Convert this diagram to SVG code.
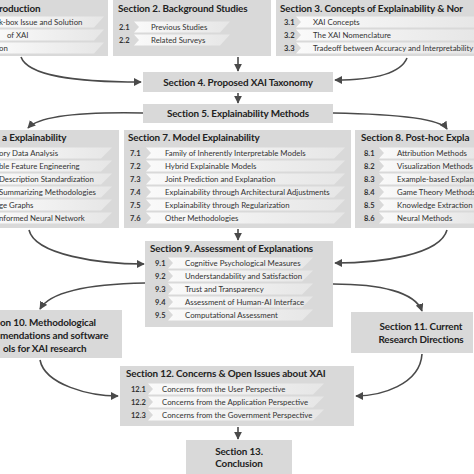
<svg xmlns="http://www.w3.org/2000/svg" width="474" height="474" viewBox="0 0 474 474">
<defs>
<linearGradient id="rg" x1="0" y1="0" x2="1" y2="0">
<stop offset="0" stop-color="#fafafa"/>
<stop offset="1" stop-color="#e6e6e6"/>
</linearGradient>
<marker id="ah" viewBox="0 0 10 10" refX="9" refY="5" markerWidth="5" markerHeight="5" orient="auto-start-reverse">
<path d="M0,0 L10,5 L0,10 z" fill="#4a4a4a"/>
</marker>
<style>
.box{fill:#d9d9d9}
.row{fill:url(#rg)}
.t{font-family:Lato,"Open Sans",sans-serif;font-weight:bold;font-size:9.9px;letter-spacing:-0.12px;fill:#222}
.tc{text-anchor:middle}
.n{font-family:Lato,"Open Sans",sans-serif;font-weight:bold;font-size:7.5px;fill:#333}
.r{font-family:Lato,"Open Sans",sans-serif;font-size:7.8px;fill:#333}
.c{fill:none;stroke:#4a4a4a;stroke-width:1.6;marker-end:url(#ah)}
</style>
</defs>
<rect width="474" height="474" fill="#fff"/>

<g id="sec1">
<rect class="box" x="-60" y="-5" width="168" height="61"/>
<text class="t" x="-1" y="12">roduction</text>
<polygon class="row" points="-10,16.5 104,16.5 94,27.5 -10,27.5"/>
<polygon class="row" points="-10,29.5 104,29.5 94,40.5 -10,40.5"/>
<polygon class="row" points="-10,42.5 104,42.5 94,53.5 -10,53.5"/>
<text class="r" x="-1" y="24.7">k-box Issue and Solution</text>
<text class="r" x="7" y="37.7">of XAI</text>
<text class="r" x="-1" y="50.7">on</text>
</g>

<g id="sec2">
<rect class="box" x="113" y="-5" width="158" height="61"/>
<text class="t" x="118" y="12">Section 2. Background Studies</text>
<polygon class="row" points="134,21.5 230,21.5 220,32.5 134,32.5 139,27"/>
<polygon class="row" points="134,34.5 230,34.5 220,45.5 134,45.5 139,40"/>
<text class="n" x="119" y="29.7">2.1</text>
<text class="r" x="151" y="29.7">Previous Studies</text>
<text class="n" x="119" y="42.7">2.2</text>
<text class="r" x="151" y="42.7">Related Surveys</text>
</g>

<g id="sec3">
<rect class="box" x="276" y="-5" width="210" height="61"/>
<text class="t" x="280" y="12">Section 3. Concepts of Explainability &amp; Nor</text>
<polygon class="row" points="296,16.5 480,16.5 480,27.5 296,27.5 301,22"/>
<polygon class="row" points="296,29.5 480,29.5 480,40.5 296,40.5 301,35"/>
<polygon class="row" points="296,42.5 480,42.5 480,53.5 296,53.5 301,48"/>
<text class="n" x="284" y="24.7">3.1</text>
<text class="r" x="313" y="24.7">XAI Concepts</text>
<text class="n" x="284" y="37.7">3.2</text>
<text class="r" x="313" y="37.7">The XAI Nomenclature</text>
<text class="n" x="284" y="50.7">3.3</text>
<text class="r" x="313" y="50.7">Tradeoff between Accuracy and Interpretability</text>
</g>

<g id="sec4">
<rect class="box" x="143" y="72" width="190" height="20"/>
<text class="t tc" x="238" y="85.5">Section 4. Proposed XAI Taxonomy</text>
</g>

<g id="sec5">
<rect class="box" x="143" y="104" width="190" height="19"/>
<text class="t tc" x="238" y="117">Section 5. Explainability Methods</text>
</g>

<g id="sec6">
<rect class="box" x="-60" y="130" width="179" height="98"/>
<text class="t" x="2" y="141">a Explainability</text>
<polygon class="row" points="-10,147.5 112,147.5 101,158.5 -10,158.5"/>
<polygon class="row" points="-10,160.5 112,160.5 101,171.5 -10,171.5"/>
<polygon class="row" points="-10,173.5 112,173.5 101,184.5 -10,184.5"/>
<polygon class="row" points="-10,186.5 112,186.5 101,197.5 -10,197.5"/>
<polygon class="row" points="-10,199.5 112,199.5 101,210.5 -10,210.5"/>
<polygon class="row" points="-10,212.5 112,212.5 101,223.5 -10,223.5"/>
<text class="r" x="-1" y="155.7">ory Data Analysis</text>
<text class="r" x="-1" y="168.7">ble Feature Engineering</text>
<text class="r" x="-1" y="181.7">Description Standardization</text>
<text class="r" x="-1" y="194.7">Summarizing Methodologies</text>
<text class="r" x="-1" y="207.7">ge Graphs</text>
<text class="r" x="-1" y="220.7">nformed Neural Network</text>
</g>

<g id="sec7">
<rect class="box" x="124" y="130" width="227" height="98"/>
<text class="t" x="128" y="141">Section 7. Model Explainability</text>
<polygon class="row" points="146,147.5 345,147.5 334,158.5 146,158.5 151,153"/>
<polygon class="row" points="146,160.5 345,160.5 334,171.5 146,171.5 151,166"/>
<polygon class="row" points="146,173.5 345,173.5 334,184.5 146,184.5 151,179"/>
<polygon class="row" points="146,186.5 345,186.5 334,197.5 146,197.5 151,192"/>
<polygon class="row" points="146,199.5 345,199.5 334,210.5 146,210.5 151,205"/>
<polygon class="row" points="146,212.5 345,212.5 334,223.5 146,223.5 151,218"/>
<text class="n" x="130" y="155.7">7.1</text>
<text class="r" x="165" y="155.7">Family of Inherently Interpretable Models</text>
<text class="n" x="130" y="168.7">7.2</text>
<text class="r" x="165" y="168.7">Hybrid Explainable Models</text>
<text class="n" x="130" y="181.7">7.3</text>
<text class="r" x="165" y="181.7">Joint Prediction and Explanation</text>
<text class="n" x="130" y="194.7">7.4</text>
<text class="r" x="165" y="194.7">Explainability through Architectural Adjustments</text>
<text class="n" x="130" y="207.7">7.5</text>
<text class="r" x="165" y="207.7">Explainability through Regularization</text>
<text class="n" x="130" y="220.7">7.6</text>
<text class="r" x="165" y="220.7">Other Methodologies</text>
</g>

<g id="sec8">
<rect class="box" x="355" y="130" width="130" height="98"/>
<text class="t" x="361" y="141">Section 8. Post-hoc Expla</text>
<polygon class="row" points="379,147.5 480,147.5 480,158.5 379,158.5 384,153"/>
<polygon class="row" points="379,160.5 480,160.5 480,171.5 379,171.5 384,166"/>
<polygon class="row" points="379,173.5 480,173.5 480,184.5 379,184.5 384,179"/>
<polygon class="row" points="379,186.5 480,186.5 480,197.5 379,197.5 384,192"/>
<polygon class="row" points="379,199.5 480,199.5 480,210.5 379,210.5 384,205"/>
<polygon class="row" points="379,212.5 480,212.5 480,223.5 379,223.5 384,218"/>
<text class="n" x="364" y="155.7">8.1</text>
<text class="r" x="397" y="155.7">Attribution Methods</text>
<text class="n" x="364" y="168.7">8.2</text>
<text class="r" x="397" y="168.7">Visualization Methods</text>
<text class="n" x="364" y="181.7">8.3</text>
<text class="r" x="397" y="181.7">Example-based Explana</text>
<text class="n" x="364" y="194.7">8.4</text>
<text class="r" x="397" y="194.7">Game Theory Methods</text>
<text class="n" x="364" y="207.7">8.5</text>
<text class="r" x="397" y="207.7">Knowledge Extraction M</text>
<text class="n" x="364" y="220.7">8.6</text>
<text class="r" x="397" y="220.7">Neural Methods</text>
</g>

<g id="sec9">
<rect class="box" x="145" y="241" width="188" height="86"/>
<text class="t" x="150" y="252">Section 9. Assessment of Explanations</text>
<polygon class="row" points="168,257.5 313,257.5 302,268.5 168,268.5 173,263"/>
<polygon class="row" points="168,270.5 313,270.5 302,281.5 168,281.5 173,276"/>
<polygon class="row" points="168,283.5 313,283.5 302,294.5 168,294.5 173,289"/>
<polygon class="row" points="168,296.5 313,296.5 302,307.5 168,307.5 173,302"/>
<polygon class="row" points="168,309.5 313,309.5 302,320.5 168,320.5 173,315"/>
<text class="n" x="155" y="265.7">9.1</text>
<text class="r" x="185" y="265.7">Cognitive Psychological Measures</text>
<text class="n" x="155" y="278.7">9.2</text>
<text class="r" x="185" y="278.7">Understandability and Satisfaction</text>
<text class="n" x="155" y="291.7">9.3</text>
<text class="r" x="185" y="291.7">Trust and Transparency</text>
<text class="n" x="155" y="304.7">9.4</text>
<text class="r" x="185" y="304.7">Assessment of Human-AI Interface</text>
<text class="n" x="155" y="317.7">9.5</text>
<text class="r" x="185" y="317.7">Computational Assessment</text>
</g>

<g id="sec10">
<rect class="box" x="-60" y="310" width="182" height="48"/>
<text class="t" x="0" y="326">on 10. Methodological</text>
<text class="t" x="0" y="339">mendations and software</text>
<text class="t" x="3" y="352">ols for XAI research</text>
</g>

<g id="sec11">
<rect class="box" x="351" y="312" width="122" height="41"/>
<text class="t tc" x="421" y="330">Section 11. Current</text>
<text class="t tc" x="421" y="343">Research Directions</text>
</g>

<g id="sec12">
<rect class="box" x="120" y="366" width="234" height="60"/>
<text class="t" x="126" y="377">Section 12. Concerns &amp; Open Issues about XAI</text>
<polygon class="row" points="148,383.5 324,383.5 313,394.5 148,394.5 153,389"/>
<polygon class="row" points="148,396.5 324,396.5 313,407.5 148,407.5 153,402"/>
<polygon class="row" points="148,409.5 324,409.5 313,420.5 148,420.5 153,415"/>
<text class="n" x="131" y="391.7">12.1</text>
<text class="r" x="162" y="391.7">Concerns from the User Perspective</text>
<text class="n" x="131" y="404.7">12.2</text>
<text class="r" x="162" y="404.7">Concerns from the Application Perspective</text>
<text class="n" x="131" y="417.7">12.3</text>
<text class="r" x="162" y="417.7">Concerns from the Government Perspective</text>
</g>

<g id="sec13">
<rect class="box" x="186" y="440" width="106" height="40"/>
<text class="t tc" x="239" y="455">Section 13.</text>
<text class="t tc" x="239" y="467">Conclusion</text>
</g>

<g id="connectors">
<path class="c" d="M238,57 L238,71"/>
<path class="c" d="M238,93 L238,103"/>
<path class="c" d="M238,229 L238,240"/>
<path class="c" d="M238,427 L238,439"/>
<path class="c" d="M21,57 C28,76 75,82 141,82"/>
<path class="c" d="M407,58 C400,75 370,80 335,80"/>
<path class="c" d="M143,113 C90,112 40,115 28,128"/>
<path class="c" d="M333,113 C390,114 440,118 447,129"/>
<path class="c" d="M29,230 C35,255 100,264 144,264"/>
<path class="c" d="M447,230 C440,255 380,263 335,263"/>
<path class="c" d="M145,283 C90,284 50,292 40,309"/>
<path class="c" d="M333,284 C380,284 415,292 422,311"/>
<path class="c" d="M40,360 C45,385 90,396 118,396"/>
<path class="c" d="M422,354 C420,385 380,396 356,396"/>
</g>
</svg>
